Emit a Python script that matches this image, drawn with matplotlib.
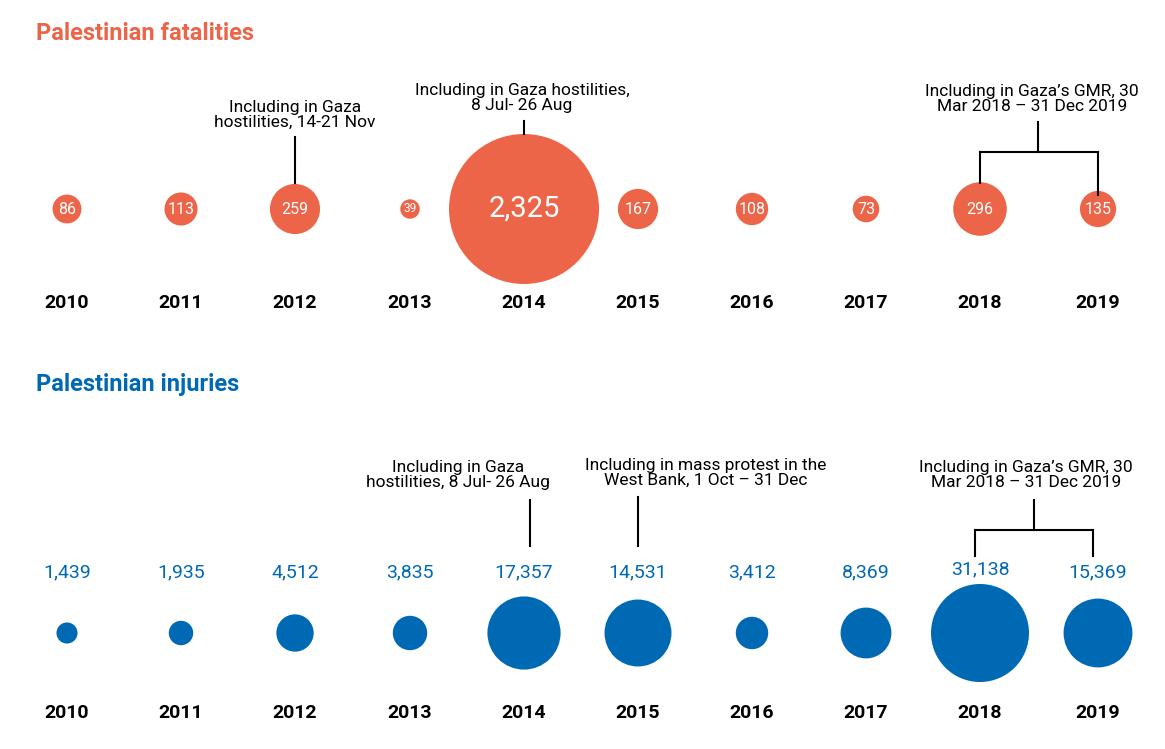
import numpy as np
import matplotlib.pyplot as plt
from matplotlib.patches import Circle

years = ["2010", "2011", "2012", "2013", "2014", "2015", "2016", "2017", "2018", "2019"]
fatalities = [86, 113, 259, 39, 2325, 167, 108, 73, 296, 135]
injuries = [1439, 1935, 4512, 3835, 17357, 14531, 3412, 8369, 31138, 15369]

RED = "#EC6549"
BLUE = "#0069B4"
FONT = "Roboto"

W, H = 1165, 749
fig = plt.figure(figsize=(W / 100, H / 100), dpi=100)
ax = fig.add_axes([0, 0, 1, 1])
ax.set_xlim(0, W)
ax.set_ylim(H, 0)
ax.set_aspect("equal")
ax.axis("off")

xs = [67, 181, 295, 410, 524, 638, 752, 866, 980, 1098]

# fatalities
ax.text(36, 33, "Palestinian fatalities", color=RED, fontsize=17, fontweight="bold",
        family=FONT, va="center")
rmax = 75
for x, v, y in zip(xs, fatalities, years):
    r = rmax * np.sqrt(v / max(fatalities))
    ax.add_patch(Circle((x, 209), r, color=RED, lw=0))
    fs = 21 if v == max(fatalities) else (8.5 if v < 50 else 11.5)
    ax.text(x, 209, f"{v:,}", color="white", fontsize=fs, ha="center", va="center", family=FONT)
    ax.text(x, 303, y, fontsize=14, fontweight="bold", ha="center", va="center", family=FONT)

# injuries
ax.text(36, 385, "Palestinian injuries", color=BLUE, fontsize=17, fontweight="bold",
        family=FONT, va="center")
rmax2 = 49
for x, v, y in zip(xs, injuries, years):
    r = rmax2 * np.sqrt(v / max(injuries))
    ax.add_patch(Circle((x, 633), r, color=BLUE, lw=0))
    ax.text(x, 572 if v != max(injuries) else 569, f"{v:,}", color=BLUE, fontsize=14,
            ha="center", va="center", family=FONT)
    ax.text(x, 713, y, fontsize=14, fontweight="bold", ha="center", va="center", family=FONT)

def note(x, y, s):
    ax.text(x, y, s, fontsize=12.5, ha="center", va="center", family=FONT, linespacing=1.0)

def line(xv, yv):
    ax.plot(xv, yv, color="black", lw=1.5)

note(295, 115, "Including in Gaza\nhostilities, 14-21 Nov")
line([295, 295], [137, 183])
note(522, 98, "Including in Gaza hostilities,\n8 Jul- 26 Aug")
line([524, 524], [121, 134])
note(1032, 99, "Including in Gaza’s GMR, 30\nMar 2018 – 31 Dec 2019")
line([1038, 1038], [122, 152])
line([980, 1098], [152, 152])
line([980, 980], [152, 183])
line([1098, 1098], [152, 195])

note(458, 475, "Including in Gaza\nhostilities, 8 Jul- 26 Aug")
line([530, 530], [500, 546])
note(706, 473, "Including in mass protest in the\nWest Bank, 1 Oct – 31 Dec")
line([638, 638], [497, 546])
note(1026, 475, "Including in Gaza’s GMR, 30\nMar 2018 – 31 Dec 2019")
line([1034, 1034], [500, 530])
line([975, 1093], [530, 530])
line([975, 975], [530, 556])
line([1093, 1093], [530, 556])

fig.savefig("out.png", dpi=100)
